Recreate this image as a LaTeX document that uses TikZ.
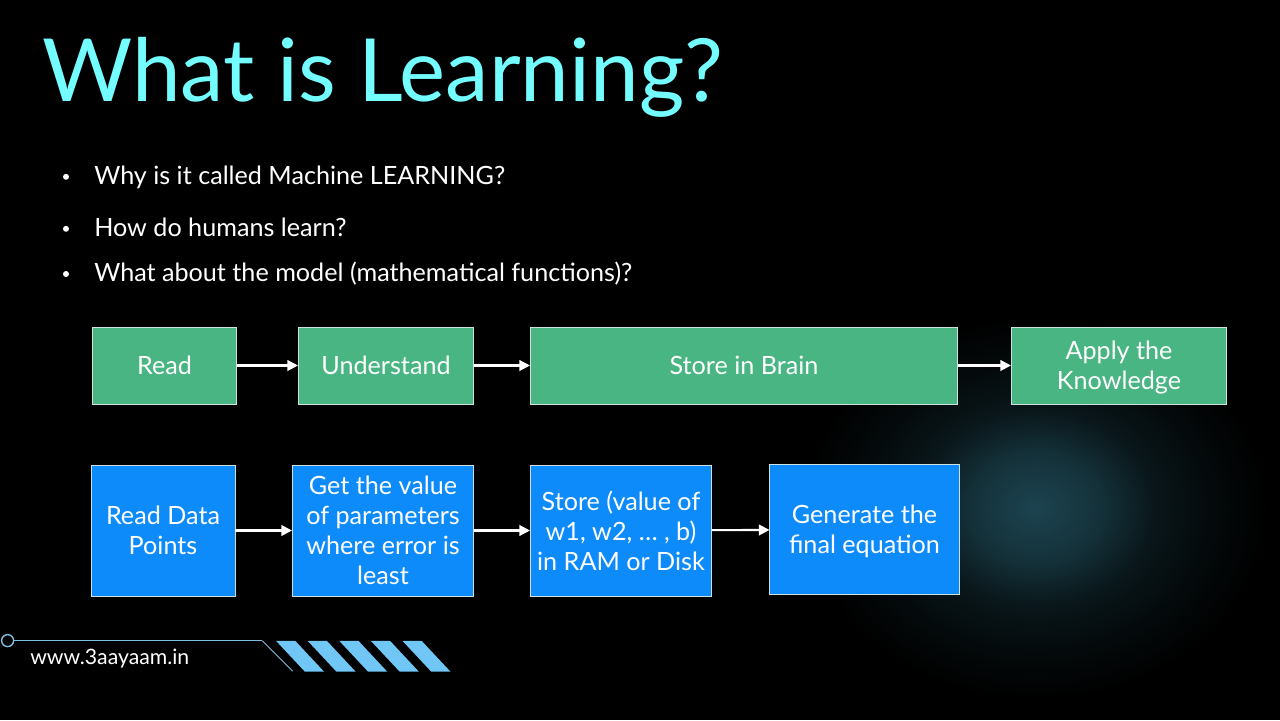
\documentclass[tikz,border=0pt]{standalone}
\usepackage{fontspec}
\setmainfont{Lato}
\usetikzlibrary{arrows.meta}
\definecolor{titlecyan}{RGB}{115,253,255}
\definecolor{boxgreen}{RGB}{73,181,130}
\definecolor{boxblue}{RGB}{14,139,250}
\definecolor{boxedge}{RGB}{205,225,225}
\definecolor{footblue}{RGB}{112,198,245}
\definecolor{footline}{RGB}{130,190,225}
\definecolor{glowteal}{RGB}{28,68,80}
\pgfdeclareradialshading{glowshade}{\pgfpoint{0bp}{0bp}}{
color(0bp)=(glowteal);
color(7bp)=(glowteal!72!black);
color(13bp)=(glowteal!32!black);
color(19bp)=(glowteal!14!black);
color(25bp)=(black);
color(50bp)=(black)
}

\begin{document}
\begin{tikzpicture}[
flowbox/.style={
rectangle,
draw=boxedge,
line width=0.6 pt,
text=white,
align=center,
inner sep=0 pt,
text depth=0 pt,
font=\fontsize{17.9}{21.3}\selectfont,
},
greenbox/.style={
flowbox,
fill=boxgreen,
minimum height=1.925 cm,
},
bluebox/.style={
flowbox,
fill=boxblue,
minimum height=3.275 cm,
},
bullettext/.style={
text=white,
anchor=base west,
inner sep=0 pt,
font=\fontsize{17.9}{20}\selectfont,
},
flowarrow/.style={
white,
line width=1.5 pt,
arrows={-Triangle[length=7.5pt, width=7.5pt]},
},
]

\useasboundingbox (0,0) rectangle (32,18);
\fill[black] (0,0) rectangle (32,18);

% glow behind the boxes
\shade[shading=glowshade] (25.9,5.3) ellipse (5.8 cm and 4.8 cm);

% title and bullets
\node [anchor=base west, inner sep=0 pt, text=titlecyan, font=\fontsize{62}{70}\selectfont]
at (1.05,15.45) (title) {What is Learning?};

\node [bullettext] at (2.35,13.38) (why) {Why is it called Machine LEARNING?};
\node [bullettext] at (2.35,12.08) (how) {How do humans learn?};
\node [bullettext] at (2.35,10.95) (model) {What about the model (mathematical functions)?};
\foreach \name in {why,how,model}
\fill[white] (\name.base west) ++(-0.7,0.2) circle (0.075 cm);

% human row
\node [greenbox, minimum width=3.61 cm] at (4.1125,8.8625) (read) {Read};
\node [greenbox, minimum width=4.38 cm] at (9.65,8.8625) (understand) {Understand};
\node [greenbox, minimum width=10.68 cm] at (18.6,8.8625) (store) {Store in Brain};
\node [greenbox, minimum width=5.38 cm] at (27.975,8.8625) (apply) {Apply the\\Knowledge};

\draw [flowarrow] (read) -- (understand);
\draw [flowarrow] (understand) -- (store);
\draw [flowarrow] (store) -- (apply);

% model row
\node [bluebox, minimum width=3.6 cm] at (4.075,4.7375) (points) {Read Data\\Points};
\node [bluebox, minimum width=4.53 cm] at (9.575,4.7375) (params) {Get the value\\of parameters\\where error is\\least};
\node [bluebox, minimum width=4.53 cm] at (15.525,4.7375) (ram) {Store (value of\\w1, w2, … , b)\\in RAM or Disk};
\node [bluebox, minimum width=4.73 cm, minimum height=3.25 cm] at (21.6125,4.76) (equation) {Generate the\\final equation};

\draw [flowarrow] (points) -- (params);
\draw [flowarrow] (params) -- (ram);
\draw [flowarrow] (ram) -- (equation);

% footer
\node [circle, draw=footline, line width=1 pt, minimum size=0.3 cm, inner sep=0 pt]
at (0.19,1.985) (dot) {};
\coordinate (bend) at (6.55,1.985);
\coordinate (tail) at (7.32,1.22);
\draw[footline, line width=1 pt] (dot) -- (bend);
\draw[footline, line width=0.6 pt] (bend) -- (tail);
\node [anchor=base west, inner sep=0 pt, text=white, font=\fontsize{15.1}{18}\selectfont]
at (0.75,1.4) (site) {www.3aayaam.in};
\foreach \i in {0,...,4}
\fill[footblue] (6.9+0.79*\i,1.98) -- ++(0.48,0) -- ++(0.72,-0.77) -- ++(-0.48,0) -- cycle;

\end{tikzpicture}
\end{document}
